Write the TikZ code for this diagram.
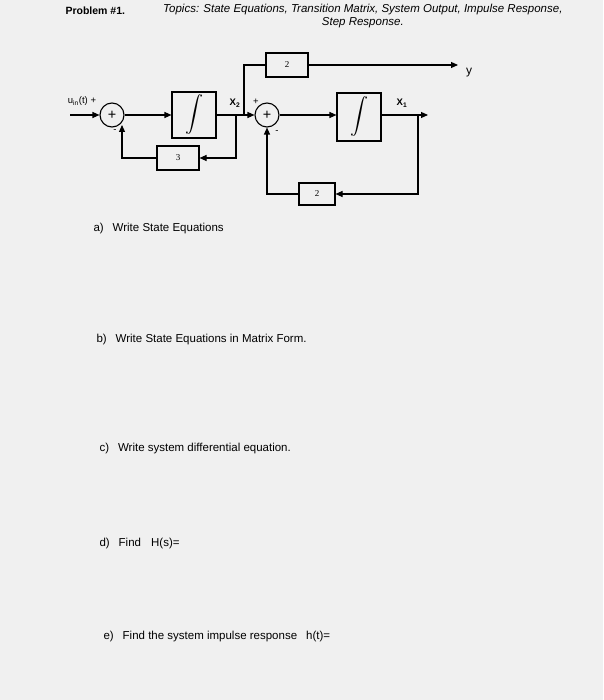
\documentclass[tikz,border=0pt]{standalone}
\usepackage{fontspec}
\setmainfont{Liberation Sans}
\newfontfamily\serifr{Liberation Serif}
\usetikzlibrary{arrows.meta}
\begin{document}
\begin{tikzpicture}[x=1pt,y=-1pt,
  blk/.style={draw,line width=1.1pt,minimum width=44pt,minimum height=46pt,inner sep=0pt},
  gain/.style={draw,line width=1.1pt,minimum width=42pt,minimum height=24pt,inner sep=0pt,font=\serifr\small},
  sumc/.style={draw,circle,line width=1.1pt,minimum size=24pt,inner sep=0pt,font=\Large},
  ln/.style={line width=1.1pt},
  ar/.style={line width=1.1pt,-{Triangle[length=7pt,width=6pt]}},
  lbl/.style={font=\fontsize{9.5}{11}\selectfont},
  q/.style={anchor=west,font=\fontsize{11.5}{13}\selectfont}]
\fill[gray!12] (0,0) rectangle (603,700);
\node[anchor=west,font=\bfseries\fontsize{10.5}{13}\selectfont] (prob) at (62,11) {Problem \#1.};
\node[anchor=north west,align=center,font=\itshape\fontsize{11.5}{13}\selectfont,inner sep=0pt] (top) at (163,4) {Topics: State Equations, Transition Matrix, System Output, Impulse Response,\\Step Response.};
% diagram
\coordinate (in) at (70,115);
\node[sumc] (s1) at (112,115) {+};
\node[blk] (i1) at (194,115) {\scalebox{1.8}{$\displaystyle\int$}};
\coordinate (b2) at (236,115);
\coordinate (t2) at (244,115);
\node[sumc] (s2) at (267,115) {+};
\node[blk,minimum height=48pt] (i2) at (359,117) {\scalebox{1.8}{$\displaystyle\int$}};
\coordinate (b1) at (418,115);
\coordinate (out1) at (428,115);
\node[gain] (g2t) at (287,65) {2};
\coordinate (yend) at (458,65);
\node[gain] (g3) at (178,158) {3};
\node[gain,minimum width=36pt,minimum height=22pt] (g2b) at (317,194) {2};
\draw[ar] (in) -- (s1);
\draw[ar] (s1) -- (i1);
\draw[ar] (i1) -- (s2);
\draw[ar] (s2) -- (i2.west|-s2);
\draw[ar] (i2.east|-out1) -- (out1);
\draw[ar] (b2) |- (g3);
\draw[ar] (g3) -| (122,125);
\draw[ln] (t2) |- (g2t);
\draw[ar] (g2t) -- (yend);
\draw[ar] (b1) |- (g2b);
\draw[ar] (g2b) -| (s2);
\node[lbl] (u) at (82,101) {u\textsubscript{in}(t) +};
\node[lbl] (m1) at (115,131) {-};
\node[lbl,font=\bfseries\fontsize{9.5}{11}\selectfont] (x2) at (235,103) {X\textsubscript{2}};
\node[lbl] (p2) at (256,102) {+};
\node[lbl] (m2) at (277,132) {-};
\node[lbl,font=\bfseries\fontsize{9.5}{11}\selectfont] (x1) at (402,103) {X\textsubscript{1}};
\node[font=\fontsize{12}{13}\selectfont] (y) at (469,73) {y};
\node[q] (qa) at (90,229) {a)\hspace{0.5em} Write State Equations};
\node[q] (qb) at (93,340) {b)\hspace{0.5em} Write State Equations in Matrix Form.};
\node[q] (qc) at (96,449) {c)\hspace{0.5em} Write system differential equation.};
\node[q] (qd) at (96,544) {d)\hspace{0.5em} Find\hspace{0.6em} H(s)=};
\node[q] (qe) at (100,637) {e)\hspace{0.5em} Find the system impulse response\hspace{0.5em} h(t)=};
\end{tikzpicture}
\end{document}
